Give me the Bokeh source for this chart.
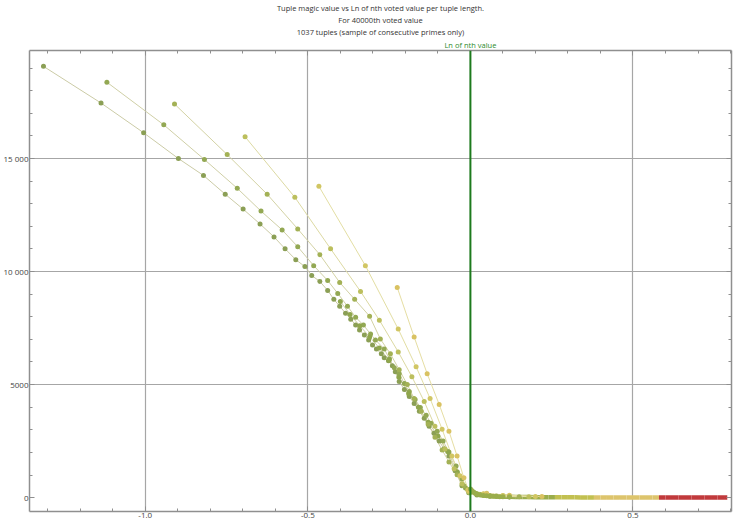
from bokeh.plotting import figure
from bokeh.models import Range1d, LinearAxis, FixedTicker, Span, Title
from bokeh.embed import file_html
from bokeh.resources import INLINE

# ---- data ----
title_lines = [
    "Tuple magic value vs Ln of nth voted value per tuple length.",
    "For 40000th voted value",
    "1037 tuples (sample of consecutive primes only)",
]
marker_label = "Ln of nth value"

x_ticks = [-1.0, -0.5, 0.0, 0.5]
x_tick_labels = ["-1.0", "-0.5", "0.0", "0.5"]
y_ticks = [0, 5000, 10000, 15000]
y_tick_labels = ["0", "5000", "10 000", "15 000"]

s_a_x = [-1.313, -1.136, -1.005, -0.898, -0.821, -0.754, -0.699, -0.647, -0.604, -0.570, -0.537, -0.509,
         -0.488, -0.463, -0.439, -0.420, -0.402, -0.384, -0.368, -0.353, -0.341, -0.326, -0.313, -0.301,
         -0.289, -0.274, -0.265, -0.252, -0.240, -0.231, -0.219, -0.203, -0.188, -0.173, -0.157, -0.142,
         -0.127, -0.112, -0.096, -0.081, -0.066, -0.047, -0.026, -0.005, 0.02, 0.06, 0.12]
s_a_y = [19079, 17456, 16140, 15000, 14254, 13421, 12763, 12105, 11535, 11009, 10526, 10219,
         9825, 9562, 9167, 8772, 8465, 8158, 7895, 7632, 7412, 7193, 6974, 6754,
         6579, 6360, 6184, 6053, 5833, 5570, 5132, 4781, 4474, 4167, 3816, 3509,
         3158, 2851, 2500, 2149, 1842, 1184, 526, 219, 120, 60, 30]

s_b_x = [-1.118, -0.943, -0.818, -0.717, -0.644, -0.579, -0.531, -0.482, -0.439, -0.408, -0.378, -0.353,
         -0.329, -0.307, -0.292, -0.265, -0.249, -0.234, -0.219, -0.203, -0.188, -0.170, -0.154, -0.136,
         -0.121, -0.102, -0.084, -0.066, -0.044, -0.026, -0.008, 0.02, 0.06, 0.12]
s_b_y = [18377, 16491, 14956, 13684, 12675, 11842, 11097, 10263, 9605, 9035, 8465, 7982,
         7632, 7237, 6974, 6579, 6140, 5746, 5482, 5044, 4693, 4342, 3991, 3640,
         3290, 2939, 2500, 2018, 1404, 833, 351, 160, 80, 40]

s_c_x = [-0.910, -0.748, -0.625, -0.531, -0.463, -0.402, -0.356, -0.310, -0.277, -0.246, -0.219, -0.194,
         -0.173, -0.151, -0.130, -0.109, -0.087, -0.066, -0.041, -0.020, -0.002, 0.03, 0.08, 0.15]
s_c_y = [17412, 15175, 13421, 11886, 10746, 9518, 8772, 8026, 7018, 6360, 5658, 5000,
         4386, 3816, 3246, 2675, 2105, 1579, 1009, 526, 219, 140, 70, 35]

s_d_x = [-0.693, -0.540, -0.430, -0.338, -0.280, -0.222, -0.180, -0.142, -0.109, -0.078, -0.050, -0.026,
         -0.005, 0.04, 0.10, 0.18]
s_d_y = [15965, 13289, 11009, 9123, 7851, 6447, 5351, 4254, 3158, 2149, 1272, 614,
         263, 150, 80, 40]

s_e_x = [-0.466, -0.323, -0.222, -0.167, -0.124, -0.087, -0.057, -0.032, -0.008, 0.04, 0.10, 0.20]
s_e_y = [13772, 10263, 7456, 5789, 4386, 3026, 1842, 965, 351, 170, 90, 45]

s_f_x = [-0.225, -0.173, -0.133, -0.096, -0.066, -0.041, -0.020, -0.005, 0.05, 0.12, 0.22]
s_f_y = [9298, 7105, 5482, 4123, 2939, 1842, 877, 307, 190, 100, 50]

s_g_x = [-0.40, -0.37, -0.34, -0.31, -0.28, -0.25, -0.22, -0.19, -0.16, -0.13, -0.10, -0.07, -0.04, -0.015]
s_g_y = [8680, 8100, 7600, 7110, 6620, 6080, 5330, 4590, 4000, 3330, 2730, 2040, 1130, 430]

tail_x = [0.00, 0.005, 0.01, 0.015, 0.02, 0.03, 0.04, 0.05, 0.06, 0.07, 0.08, 0.09, 0.10, 0.12, 0.14,
          0.16, 0.18, 0.20, 0.22, 0.24, 0.26, 0.28, 0.30, 0.32, 0.34, 0.36, 0.38, 0.40, 0.42, 0.44,
          0.46, 0.48, 0.50, 0.52, 0.54, 0.56, 0.58, 0.60, 0.62, 0.64, 0.66, 0.68, 0.70, 0.72, 0.74,
          0.76, 0.78, 0.79]
tail_y = [380, 300, 240, 190, 160, 120, 95, 80, 68, 58, 50, 44, 40, 34, 30,
          26, 23, 20, 18, 16, 14, 13, 12, 11, 10, 9, 8, 8, 7, 7,
          6, 6, 5, 5, 5, 4, 4, 4, 3, 3, 3, 3, 2, 2, 2,
          2, 2, 2]

series = [
    (s_a_x, s_a_y, "#8b9f55", "#cbcba6"),
    (s_b_x, s_b_y, "#93a853", "#cfcfa6"),
    (s_g_x, s_g_y, "#8fa64c", "#cfcfa6"),
    (s_c_x, s_c_y, "#a3b155", "#d3d2a4"),
    (s_d_x, s_d_y, "#bcbf5d", "#dcd9a2"),
    (s_e_x, s_e_y, "#d1c663", "#e3dea3"),
    (s_f_x, s_f_y, "#d9c262", "#e6dea3"),
]

FONT = "Open Sans"

p = figure(width=741, height=525, output_backend="svg", toolbar_location=None,
           x_range=Range1d(-1.356, 0.803), y_range=Range1d(-614, 19780),
           min_border_left=10, min_border_right=10, min_border_top=46, min_border_bottom=14)
p.outline_line_color = None
p.background_fill_color = "white"

x_minor = [-1.3, -1.2, -1.1, -0.9, -0.8, -0.7, -0.6, -0.4, -0.3, -0.2, -0.1, 0.1, 0.2, 0.3, 0.4, 0.6, 0.7, 0.8]
y_minor = [1000, 2000, 3000, 4000, 6000, 7000, 8000, 9000, 11000, 12000, 13000, 14000, 16000, 17000, 18000, 19000]


def style_axis(ax, ticks, minor, labels):
    ax.ticker = FixedTicker(ticks=ticks, minor_ticks=minor)
    ax.axis_line_color = "#8f8f8f"
    ax.axis_line_width = 1.5
    ax.major_tick_line_color = "#8f8f8f"
    ax.minor_tick_line_color = "#8f8f8f"
    ax.major_tick_in = 5
    ax.major_tick_out = 0
    ax.minor_tick_in = 3
    ax.minor_tick_out = 0
    ax.major_label_standoff = 1
    ax.major_label_text_font = FONT
    ax.major_label_text_font_size = "8px"
    ax.major_label_text_color = "#444444"
    ax.major_label_overrides = {t: l for t, l in zip(ticks, labels)}


style_axis(p.xaxis[0], x_ticks, x_minor, x_tick_labels)
style_axis(p.yaxis[0], y_ticks, y_minor, y_tick_labels)
top_ax = LinearAxis()
right_ax = LinearAxis()
# the green marker label sits on the top frame, centred on x = 0
style_axis(top_ax, x_ticks, x_minor, [marker_label if t == 0.0 else "" for t in x_ticks])
top_ax.major_label_text_color = "#2c8a2c"
top_ax.major_label_text_font_size = "7.5px"
top_ax.major_label_standoff = 1
style_axis(right_ax, y_ticks, y_minor, ["" for _ in y_ticks])
right_ax.major_label_standoff = 0
p.add_layout(top_ax, "above")
p.add_layout(right_ax, "right")

p.xgrid.ticker = FixedTicker(ticks=[-1.0, -0.5, 0.5])
p.ygrid.ticker = FixedTicker(ticks=[5000, 10000, 15000])
p.xgrid.grid_line_color = "#a6a6a6"
p.ygrid.grid_line_color = "#a6a6a6"
p.xgrid.grid_line_width = 1.2
p.ygrid.grid_line_width = 1.2


def tail_color(x):
    if x < 0.25:
        return "#9aad4b"
    if x < 0.37:
        return "#c2c050"
    if x < 0.58:
        return "#ddc46c"
    return "#c13a3c"


tc = [tail_color(x) for x in tail_x[:-1]]
p.segment(x0=tail_x[:-1], y0=tail_y[:-1], x1=tail_x[1:], y1=tail_y[1:], line_color=tc, line_width=4.5)

for xs, ys, pc, lc in series:
    p.line(xs, ys, line_color=lc, line_width=1)
for xs, ys, pc, lc in series:
    p.scatter(xs, ys, size=5, fill_color=pc, line_color=None)

p.scatter(tail_x[:14], tail_y[:14], size=5, fill_color="#9aad4b", line_color=None)

p.add_layout(Span(location=0, dimension="height", line_color="#1d7a1d", line_width=2))

# titles: first added sits closest to the frame
for txt in reversed(title_lines[1:]):
    p.add_layout(Title(text=txt, align="center", standoff=0, text_line_height=0.9,
                       text_font=FONT, text_font_size="7.5px", text_font_style="normal",
                       text_color="#333333"), "above")
p.title.text = title_lines[0]
p.title.align = "center"
p.title.standoff = 0
p.title.text_line_height = 0.9
p.title.text_font = FONT
p.title.text_font_size = "7.5px"
p.title.text_font_style = "normal"
p.title.text_color = "#333333"

open("out.html", "w").write(file_html(p, INLINE))
